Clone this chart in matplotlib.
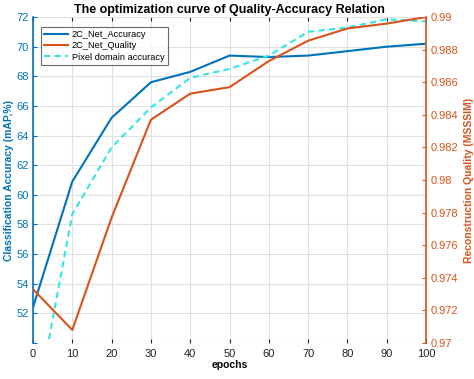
import matplotlib.pyplot as plt
import matplotlib.ticker as mticker
import numpy as np

plt.rcParams['font.family'] = ['Liberation Sans', 'DejaVu Sans']

epochs = [0, 10, 20, 30, 40, 50, 60, 70, 80, 90, 100]
net_accuracy = [52.4, 60.9, 65.2, 67.6, 68.3, 69.4, 69.3, 69.4, 69.7, 70.0, 70.2]
net_quality = [0.9733, 0.9708, 0.9777, 0.9837, 0.9853, 0.9857, 0.9873, 0.98855, 0.9893, 0.9896, 0.9900]
pixel_accuracy = [44.5, 58.7, 63.2, 65.9, 67.9, 68.5, 69.4, 71.0, 71.3, 71.85, 71.7]

blue = '#0072BD'
orange = '#D95319'
cyan = '#33E6E6'

fig = plt.figure(figsize=(4.74, 3.79), dpi=100)
ax = fig.add_axes([0.0696, 0.095, 0.8294, 0.86])
ax2 = ax.twinx()

l1, = ax.plot(epochs, net_accuracy, color=blue, lw=1.5, label='2C_Net_Accuracy')
l3, = ax.plot(epochs, pixel_accuracy, color=cyan, lw=1.5, ls=(0, (3, 2)), label='Pixel domain accuracy')
l2, = ax2.plot(epochs, net_quality, color=orange, lw=1.5, label='2C_Net_Quality')

ax.set_xlim(0, 100)
ax.set_ylim(50, 72)
ax2.set_ylim(0.97, 0.99)
ax.set_xticks(range(0, 101, 10))
ax.set_yticks(range(50, 73, 2))
ax.set_yticklabels([''] + [str(v) for v in range(52, 73, 2)])
ax2.set_yticks(np.linspace(0.97, 0.99, 11))
ax2.yaxis.set_major_formatter(mticker.FormatStrFormatter('%g'))

ax.grid(True, color='#e0e0e0', lw=0.8)
ax.set_axisbelow(True)

ax.tick_params(axis='x', direction='in', length=3, labelsize=8, colors='#222222', top=True, pad=4)
ax.tick_params(axis='y', direction='in', length=3, labelsize=8, colors=blue, pad=3)
ax2.tick_params(axis='y', direction='in', length=3, labelsize=8, colors=orange, pad=3)

for s in ['top', 'bottom']:
    ax.spines[s].set_visible(False)
    ax2.spines[s].set_visible(False)
ax.spines['right'].set_visible(False)
ax2.spines['left'].set_visible(False)
ax.spines['left'].set_color(blue)
ax2.spines['right'].set_color(orange)
ax.spines['left'].set_linewidth(1.2)
ax2.spines['right'].set_linewidth(1.2)

ax.set_xlabel('epochs', fontsize=7.5, fontweight='bold', labelpad=1)
ax.set_ylabel('Classification Accuracy (mAP,%)', fontsize=7.5, fontweight='bold', color=blue, labelpad=2)
ax2.set_ylabel('Reconstruction Quality (MSSSIM)', fontsize=7.5, fontweight='bold', color=orange, labelpad=4)
ax.set_title('The optimization curve of Quality-Accuracy Relation', fontsize=9, fontweight='bold', pad=3)

leg = ax.legend([l1, l2, l3], ['2C_Net_Accuracy', '2C_Net_Quality', 'Pixel domain accuracy'],
                loc='upper left', bbox_to_anchor=(0.02, 0.97), fontsize=6.7, frameon=True,
                fancybox=False, edgecolor='#444444', handlelength=2.6, borderpad=0.35,
                labelspacing=0.25, handletextpad=0.4, borderaxespad=0.0)
leg.get_frame().set_linewidth(0.8)
leg.set_zorder(5)

fig.savefig('out.png', dpi=100)
